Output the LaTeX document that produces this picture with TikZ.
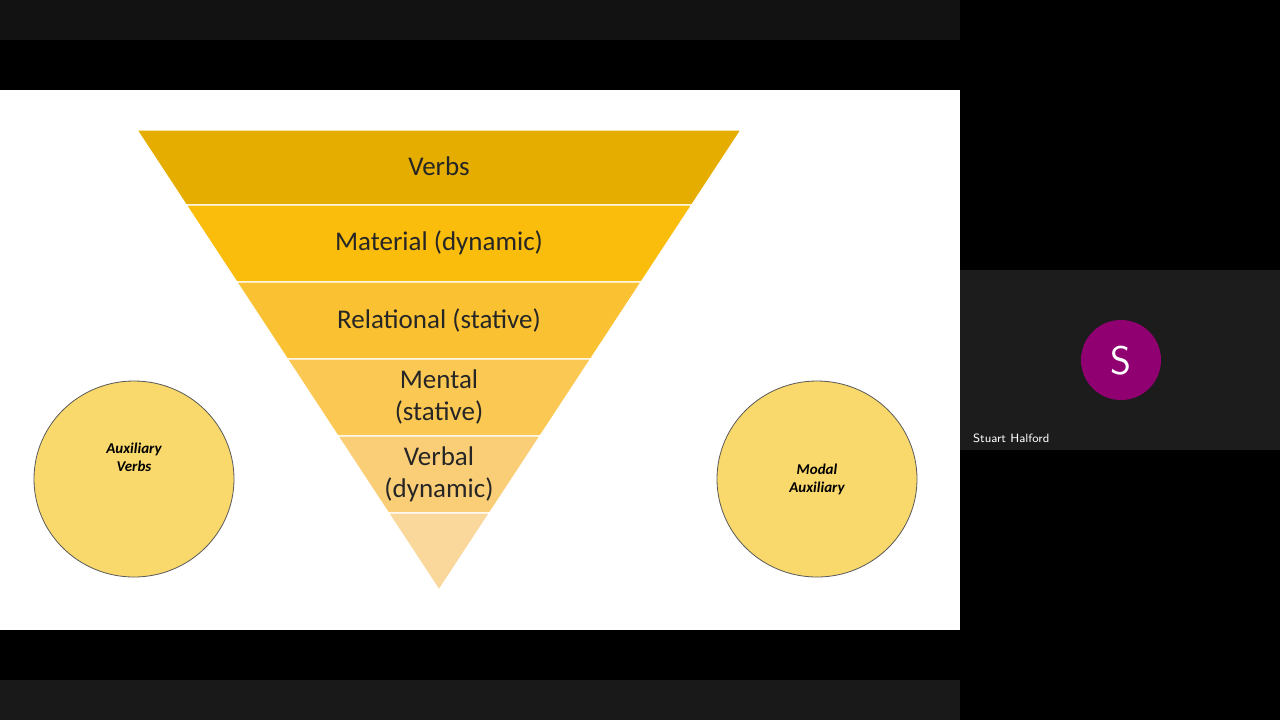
\documentclass[tikz,border=0pt]{standalone}
\usepackage{fontspec}
\setmainfont{Carlito}
\begin{document}
\begin{tikzpicture}[x=0.5pt,y=-0.5pt,
  lbl/.style={font=\fontsize{13.5}{16}\selectfont,align=center,text=black!85},
  circ/.style={draw=gray!70!black,line width=0.4pt,fill=cfill},
  ctext/.style={font=\fontsize{7.5}{9}\selectfont\bfseries\itshape,align=center}]
\definecolor{cfill}{HTML}{F9D86C}
\definecolor{b1}{HTML}{E5AD00}
\definecolor{b2}{HTML}{FABD0C}
\definecolor{b3}{HTML}{FAC232}
\definecolor{b4}{HTML}{FAC853}
\definecolor{b5}{HTML}{FACE76}
\definecolor{b6}{HTML}{FAD89C}
\useasboundingbox (0,0) rectangle (1280,720);
\fill[black] (0,0) rectangle (1280,720);
\fill[black!93] (0,0) rectangle (960,40);
\fill[black!90] (0,680) rectangle (960,720);
\fill[white] (0,90) rectangle (960,630);
\fill[black!89] (960,270) rectangle (1280,450);
% triangle bands
\foreach \i/\ya/\yb/\c in {1/130/205/b1,2/205/282/b2,3/282/359/b3,4/359/436/b4,5/436/513/b5,6/513/590/b6}{
  \pgfmathsetmacro{\wa}{0.656522*(590-\ya)}
  \pgfmathsetmacro{\wb}{0.656522*(590-\yb)}
  \fill[\c,draw=white,line width=0.6pt] (439-\wa,\ya) -- (439+\wa,\ya) -- (439+\wb,\yb) -- (439-\wb,\yb) -- cycle;
}
\node[lbl] (verbs) at (439,166) {Verbs};
\node[lbl] (mat) at (439,243) {Material (dynamic)};
\node[lbl] (rel) at (439,320) {Relational (stative)};
\node[lbl] (men) at (439,397) {Mental\\(stative)};
\node[lbl] (vbl) at (439,474) {Verbal\\(dynamic)};
% circles
\draw[circ] (134,479) ellipse (100 and 98);
\node[ctext] (aux) at (134,457) {Auxiliary\\Verbs};
\draw[circ] (817,479) ellipse (100 and 98);
\node[ctext] (mod) at (817,479) {Modal\\Auxiliary};
% participant
\fill[violet!75!purple] (1121,360) circle (40);
\node[text=white,font=\fontsize{20}{24}\selectfont\sffamily] (s) at (1121,361) {S};
\node[anchor=west,text=white,font=\fontsize{6}{7}\selectfont\sffamily] (name) at (966,438) {Stuart Halford};
\end{tikzpicture}
\end{document}
